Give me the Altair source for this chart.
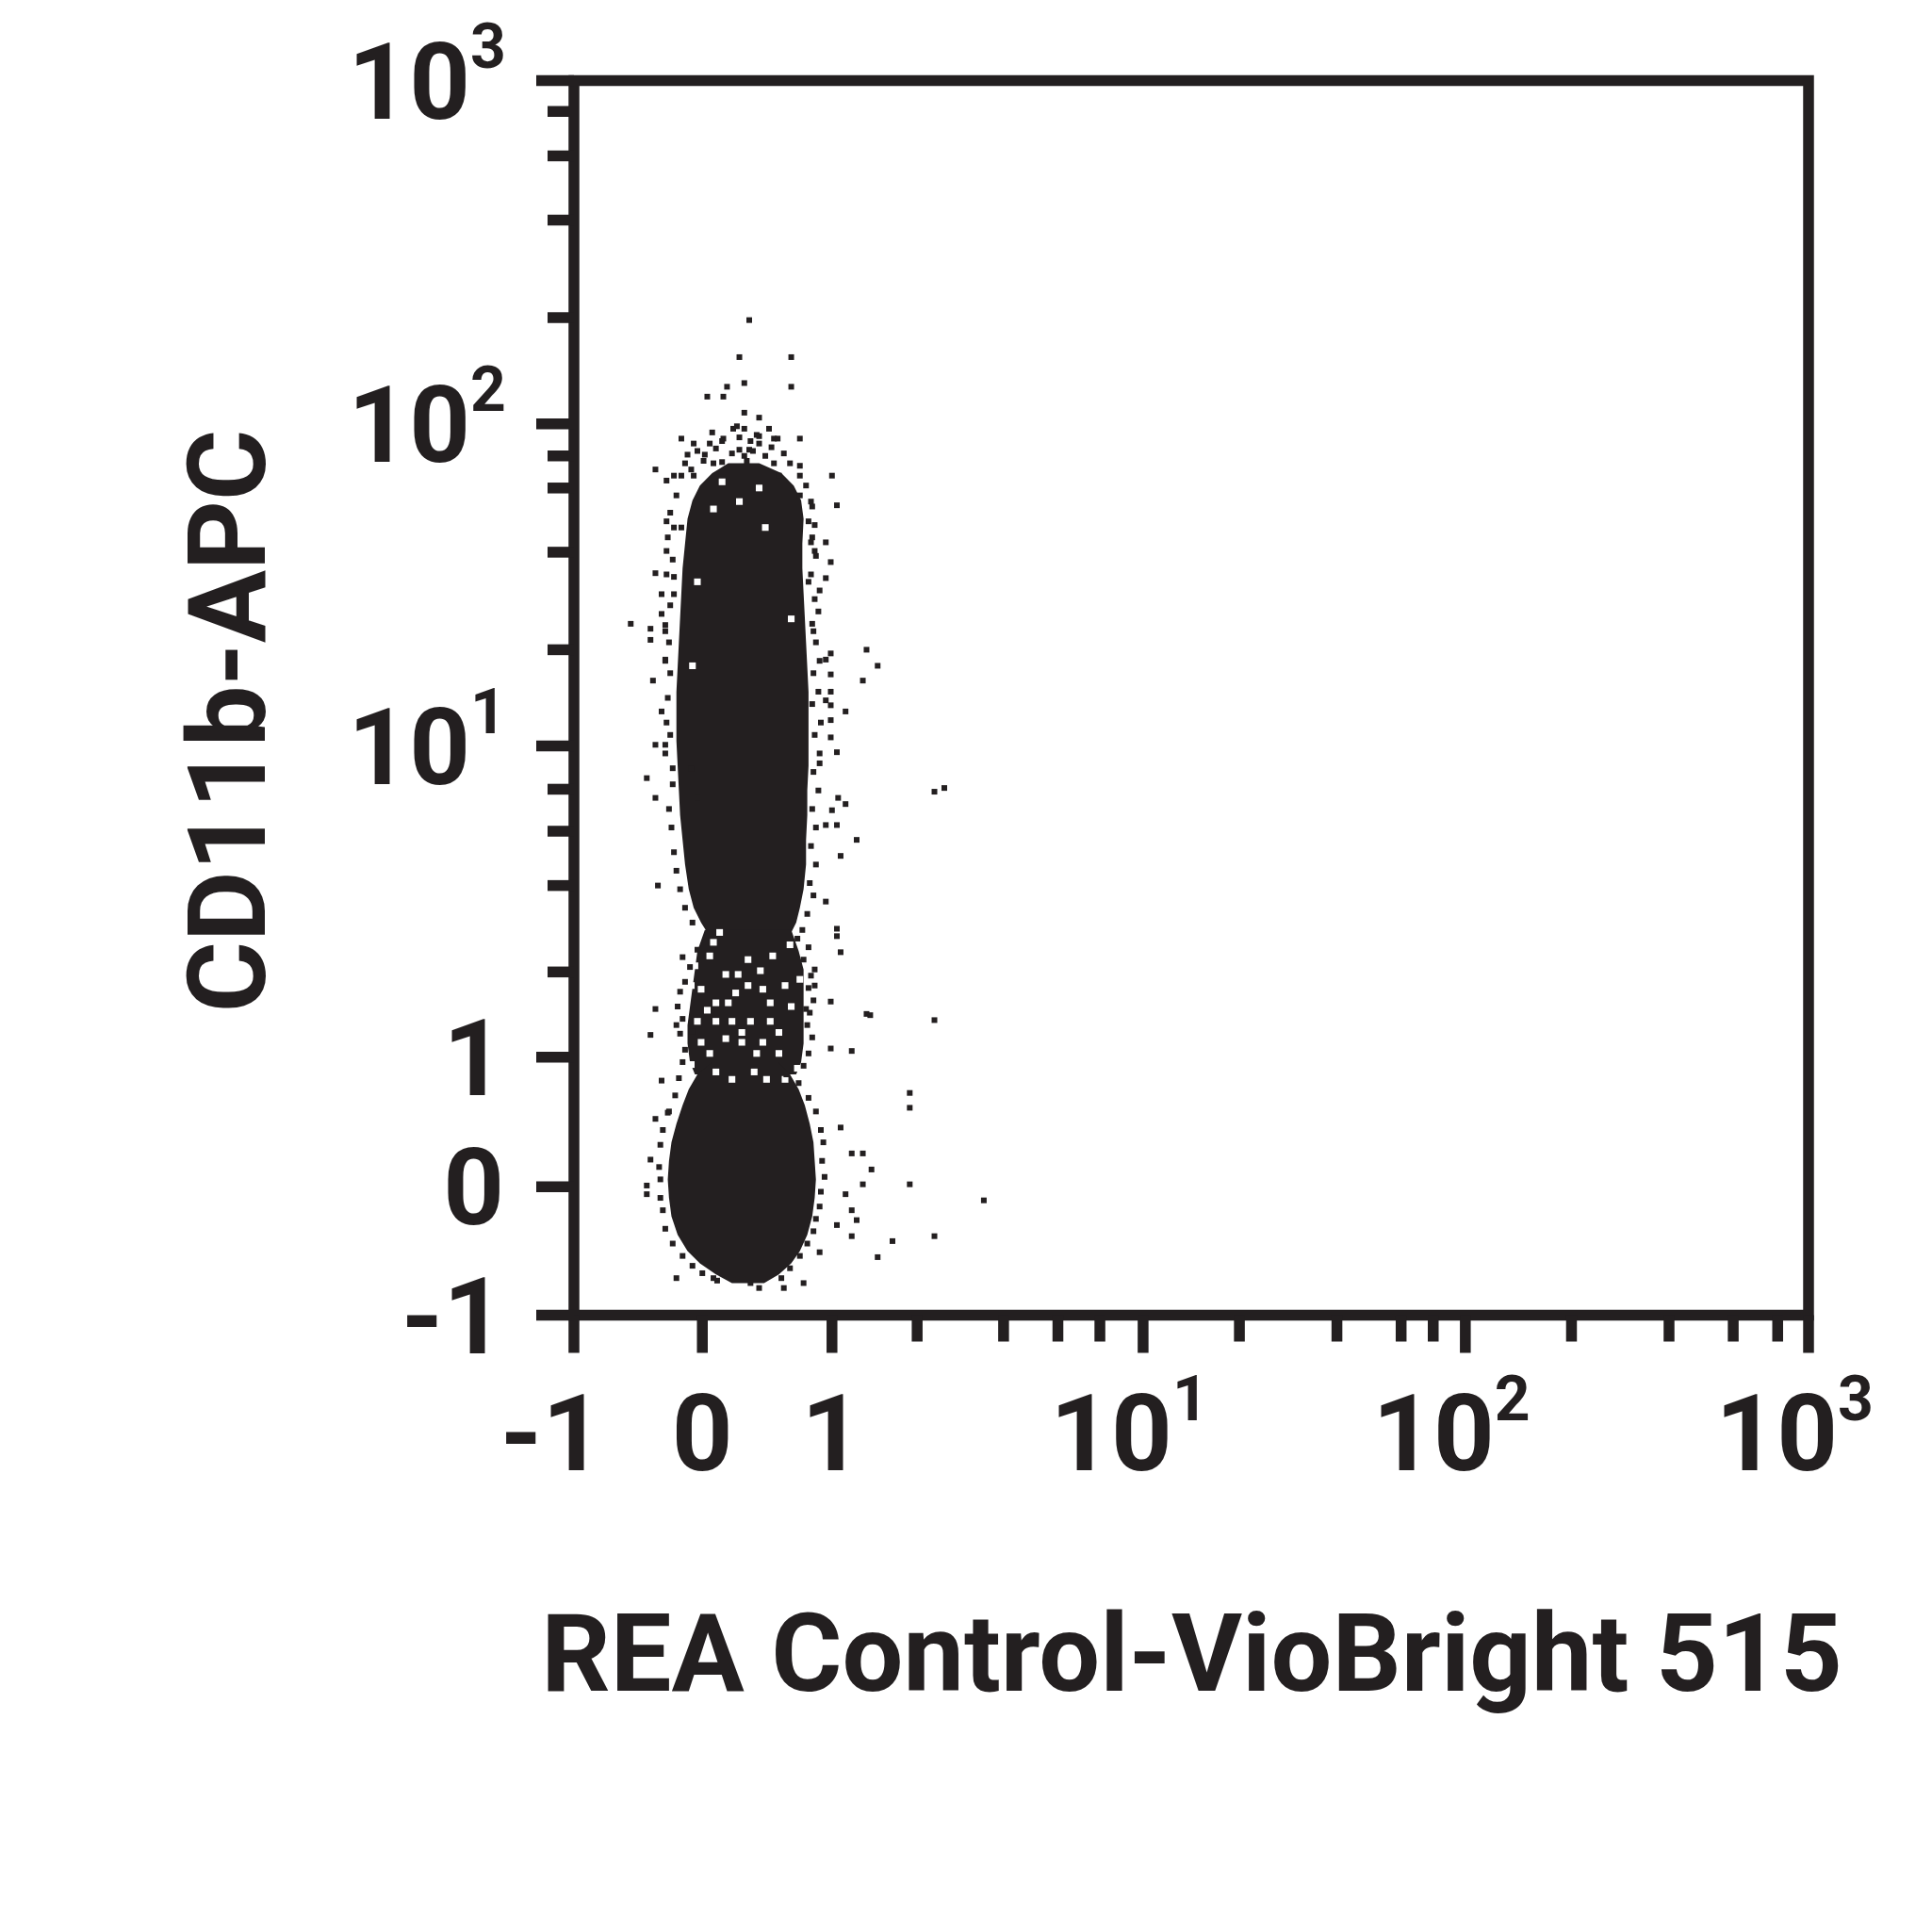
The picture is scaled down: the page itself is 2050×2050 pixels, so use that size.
import altair as alt
import pandas as pd

INK = "#231f20"
FONT = "Roboto"

# ---- axis calibration (display channel 0..1000, same on both axes) ----
major_pos = [0, 104, 209, 461, 722, 1000]
major_base = ["-1", "0", "1", "10", "10", "10"]
major_sup = ["", "", "", "1", "2", "3"]
minor_pos = [278, 348, 392, 426, 539, 618, 670, 696, 808, 887, 939, 975]

x_title = "REA Control-VioBright 515"
y_title = "CD11b-APC"

# ---- dense cores (row extents in channel units) ----
upper_y = [690, 682, 672, 660, 645, 625, 605, 585, 565, 545, 525, 505, 485, 465, 445, 425, 405, 385, 365, 345, 330, 318, 310]
upper_left = [125, 112, 102, 96, 92, 90, 88, 87, 86, 85, 84, 83, 83, 83, 84, 85, 86, 88, 90, 93, 97, 103, 108]
upper_right = [150, 168, 178, 184, 186, 185, 185, 186, 187, 188, 189, 190, 190, 190, 190, 189, 189, 188, 188, 186, 183, 180, 176]

neck_y = [312, 295, 280, 265, 250, 235, 220, 205, 195]
neck_left = [106, 100, 98, 96, 94, 92, 92, 94, 98]
neck_right = [176, 182, 186, 186, 186, 186, 186, 184, 180]

lower_y = [205, 195, 183, 170, 155, 140, 125, 110, 95, 80, 65, 52, 42, 33, 26]
lower_left = [112, 100, 93, 88, 83, 79, 77, 76, 77, 79, 84, 92, 102, 115, 128]
lower_right = [165, 175, 182, 187, 191, 194, 195, 196, 195, 193, 189, 183, 176, 166, 154]

# ---- empty cells inside the cores ----
holes_x = [141, 161, 113, 123, 133, 95, 103, 115, 125, 141, 153, 171, 100, 115, 128, 143, 159, 176,
           103, 123, 136, 148, 166, 95, 115, 128, 146, 156, 171, 181, 110, 151, 131, 159, 108, 136,
           166, 110, 153, 183, 118, 98, 175,
           113, 134, 155, 100, 96, 176, 120, 150]
holes_y = [288, 291, 302, 276, 276, 267, 264, 253, 253, 267, 264, 267, 238, 238, 238, 238, 238, 250,
           221, 224, 221, 212, 212, 203, 197, 191, 197, 191, 191, 200, 291, 279, 261, 253, 247, 229,
           229, 212, 221, 272, 310, 283, 300,
           653, 659, 638, 594, 526, 564, 675, 670]

# ---- isolated events ----
dots_x = [142, 134, 176, 138, 124, 176, 108, 121, 138, 150, 129, 138, 158, 148, 134, 87, 110, 97,
          121, 162, 183, 150, 134, 142, 92, 106, 138, 155, 162, 66, 113, 120, 81, 87, 97, 166,
          183, 209, 75, 188, 83, 183, 192, 213, 75, 81, 87, 190, 192, 204, 75, 195, 208, 66,
          81, 190, 199, 71, 81, 204, 71, 46, 62, 62, 74, 74, 194, 208, 237, 246, 234, 64,
          74, 204, 208, 71, 208, 204, 208, 220, 208, 66, 74, 208, 213, 80, 95, 199,
          59, 66, 100, 214, 220, 209, 204, 213, 229, 216, 68, 204, 213, 213, 216, 292, 300,
          66, 62, 83, 208, 195, 195, 237, 292, 208, 225, 71, 76, 66, 272, 272, 216, 225,
          234, 241, 234, 272, 332, 220, 225, 229, 213, 225, 258, 292, 246, 199, 59, 59, 62,
          83, 113, 170, 186, 143,
          78, 76, 80, 75, 78, 77, 74, 78, 76, 75, 78, 74, 80, 77, 79, 81, 83, 86, 90, 96,
          193, 195, 193, 196, 192, 195, 198, 193, 196, 199, 194, 198, 193, 200, 195, 199, 194,
          198, 193, 196, 192, 196, 191, 194, 189, 185,
          85, 82, 77, 72, 70, 69, 70, 70, 72, 74, 80, 88, 96, 104, 116,
          172, 182, 190, 196, 200, 202, 201, 203, 200, 199, 196, 194, 189, 183, 175, 168, 150,
          88, 94, 90, 86, 84, 88, 86, 90, 88, 190, 186, 192, 190, 194, 191, 189, 193, 190, 186,
          100, 181, 96, 188, 240,
          100, 115, 128, 145, 160, 170, 90, 105, 140, 175, 183, 95, 120, 150, 165, 112, 132, 143]
dots_y = [806, 776, 776, 755, 752, 752, 744, 744, 731, 727, 718, 718, 718, 713, 711, 710, 706, 706,
          710, 710, 710, 706, 701, 701, 697, 697, 696, 696, 690, 685, 690, 691, 680, 680, 680, 680,
          680, 680, 676, 672, 664, 664, 659, 656, 643, 638, 638, 643, 626, 626, 619, 619, 610, 601,
          598, 594, 587, 584, 584, 597, 568, 560, 556, 547, 559, 554, 554, 536, 539, 526, 514, 514,
          531, 531, 519, 489, 505, 498, 494, 489, 482, 462, 462, 468, 456, 443, 443, 447,
          435, 419, 419, 419, 414, 409, 397, 397, 385, 372, 348, 335, 313, 307, 294, 424, 427,
          248, 227, 235, 254, 280, 267, 244, 239, 216, 214, 190, 164, 159, 180, 168, 152, 131,
          131, 118, 106, 106, 93, 98, 85, 77, 73, 64, 60, 64, 47, 51, 105, 98, 126,
          30, 30, 22, 26, 26,
          650, 630, 612, 600, 575, 545, 530, 520, 500, 480, 470, 455, 430, 410, 395, 375, 360, 345, 330, 318,
          655, 640, 630, 615, 600, 580, 570, 560, 545, 530, 520, 505, 495, 480, 470, 455, 440,
          425, 410, 395, 380, 365, 350, 340, 325, 312,
          192, 178, 165, 150, 138, 120, 110, 95, 85, 70, 58, 48, 40, 34, 28,
          195, 188, 176, 165, 150, 140, 125, 112, 100, 88, 78, 68, 58, 48, 38, 30, 22,
          290, 282, 270, 262, 250, 240, 228, 215, 205, 298, 288, 275, 265, 255, 245, 235, 225, 212, 202,
          296, 305, 230, 248, 243,
          700, 702, 698, 700, 703, 698, 690, 692, 692, 690, 688, 685, 708, 712, 710, 715, 720, 708]

xs = alt.Scale(domain=[0, 1000], nice=False, zero=False)
ys = alt.Scale(domain=[0, 1000], nice=False, zero=False)

W = 1310
H = 1310


def blob(yv, lv, rv):
    df = pd.DataFrame({"y": yv, "left": lv, "right": rv}).sort_values("y")
    return alt.Chart(df).mark_area(orient="horizontal", color=INK, opacity=1, interpolate="linear").encode(
        y=alt.Y("y:Q", scale=ys, axis=None),
        x=alt.X("left:Q", scale=xs, axis=None, stack=None),
        x2="right:Q",
    )


blob_up = blob(upper_y, upper_left, upper_right)
blob_neck = blob(neck_y, neck_left, neck_right)
blob_low = blob(lower_y, lower_left, lower_right)

holes = alt.Chart(pd.DataFrame({"x": holes_x, "y": holes_y})).mark_square(
    size=50, color="white", opacity=1, filled=True
).encode(x=alt.X("x:Q", scale=xs, axis=None), y=alt.Y("y:Q", scale=ys, axis=None))

dots = alt.Chart(pd.DataFrame({"x": dots_x, "y": dots_y})).mark_square(
    size=36, color=INK, opacity=1, filled=True
).encode(x=alt.X("x:Q", scale=xs, axis=None), y=alt.Y("y:Q", scale=ys, axis=None))

major_df = pd.DataFrame({"pos": major_pos, "base": major_base, "sup": major_sup})
minor_df = pd.DataFrame({"pos": minor_pos})

TW = 11.5
x_major = alt.Chart(major_df).mark_rule(color=INK, strokeWidth=TW).encode(
    x=alt.X("pos:Q", scale=xs, axis=None), y=alt.value(H), y2=alt.value(H + 40))
x_minor = alt.Chart(minor_df).mark_rule(color=INK, strokeWidth=TW).encode(
    x=alt.X("pos:Q", scale=xs, axis=None), y=alt.value(H), y2=alt.value(H + 28))
y_major = alt.Chart(major_df).mark_rule(color=INK, strokeWidth=TW).encode(
    y=alt.Y("pos:Q", scale=ys, axis=None), x=alt.value(0), x2=alt.value(-40))
y_minor = alt.Chart(minor_df).mark_rule(color=INK, strokeWidth=TW).encode(
    y=alt.Y("pos:Q", scale=ys, axis=None), x=alt.value(0), x2=alt.value(-28))

LFS = 113
SFS = 66
txt = dict(font=FONT, fontWeight="bold", color=INK)

plain = major_df[major_df["sup"] == ""]
plain_pos = plain[plain["base"] != "-1"]
neg = plain[plain["base"] == "-1"]
power = major_df[major_df["sup"] != ""]

XB = 1474.5  # baseline of x tick labels (relative to plot top)
XS = 1421.5  # baseline of x superscripts

x_lab_plain = alt.Chart(plain_pos).mark_text(align="center", baseline="alphabetic", fontSize=LFS, **txt).encode(
    x=alt.X("pos:Q", scale=xs, axis=None), y=alt.value(XB), text="base:N")
x_lab_neg = alt.Chart(neg).mark_text(align="right", baseline="alphabetic", fontSize=LFS, dx=31, **txt).encode(
    x=alt.X("pos:Q", scale=xs, axis=None), y=alt.value(XB), text="base:N")
x_lab_pow = alt.Chart(power).mark_text(align="right", baseline="alphabetic", fontSize=LFS, dx=31, **txt).encode(
    x=alt.X("pos:Q", scale=xs, axis=None), y=alt.value(XB), text="base:N")
x_lab_sup = alt.Chart(power).mark_text(align="left", baseline="alphabetic", fontSize=SFS, dx=31, **txt).encode(
    x=alt.X("pos:Q", scale=xs, axis=None), y=alt.value(XS), text="sup:N")

y_lab_plain = alt.Chart(plain).mark_text(align="right", baseline="alphabetic", fontSize=LFS, dy=40, **txt).encode(
    y=alt.Y("pos:Q", scale=ys, axis=None), x=alt.value(-74), text="base:N")
y_lab_pow = alt.Chart(power).mark_text(align="right", baseline="alphabetic", fontSize=LFS, dy=40, **txt).encode(
    y=alt.Y("pos:Q", scale=ys, axis=None), x=alt.value(-110), text="base:N")
y_lab_sup = alt.Chart(power).mark_text(align="left", baseline="alphabetic", fontSize=SFS, dy=-14, **txt).encode(
    y=alt.Y("pos:Q", scale=ys, axis=None), x=alt.value(-110), text="sup:N")

TFS = 115
x_tit = alt.Chart(pd.DataFrame({"t": [x_title]})).mark_text(
    align="center", baseline="alphabetic", fontSize=TFS, **txt
).encode(x=alt.value(655.5), y=alt.value(1708.5), text="t:N")
y_tit = alt.Chart(pd.DataFrame({"t": [y_title]})).mark_text(
    align="center", baseline="alphabetic", fontSize=TFS, angle=270, **txt
).encode(x=alt.value(-328), y=alt.value(679.5), text="t:N")

chart = alt.layer(
    blob_up, blob_neck, blob_low, holes, dots,
    x_major, x_minor, y_major, y_minor,
    x_lab_plain, x_lab_neg, x_lab_pow, x_lab_sup,
    y_lab_plain, y_lab_pow, y_lab_sup,
    x_tit, y_tit,
).properties(
    width=W, height=H,
    autosize=alt.AutoSizeParams(type="none"),
    padding={"left": 601, "top": 77.5, "right": 110, "bottom": 600},
).configure_view(stroke=INK, strokeWidth=TW)

chart.save("out.html", embed_options={"renderer": "svg", "actions": False})
